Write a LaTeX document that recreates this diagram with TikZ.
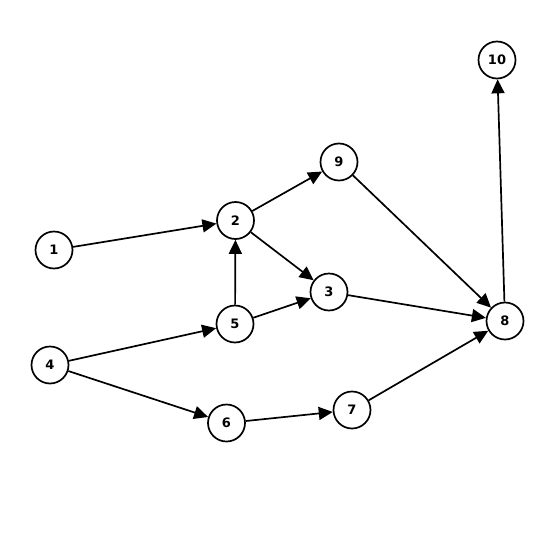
\documentclass[tikz,border=0pt]{standalone}
\usepackage{fontspec}
\setmainfont{DejaVu Sans}
\usetikzlibrary{arrows.meta}
\begin{document}
\begin{tikzpicture}[x=1pt,y=-1pt,
  vtx/.style={circle,draw,line width=1.7pt,minimum size=37pt,inner sep=0pt,fill=white,font=\bfseries\fontsize{13}{14}\selectfont},
  edge/.style={line width=1.7pt,-{Triangle[length=14pt,width=13pt]}}]
\useasboundingbox (0,0) rectangle (557,557);
\node[vtx] (n1) at (54,250) {1};
\node[vtx] (n2) at (235.5,220.5) {2};
\node[vtx] (n9) at (339,162) {9};
\node[vtx] (n10) at (497,60) {10};
\node[vtx] (n3) at (329,292) {3};
\node[vtx] (n5) at (235,324) {5};
\node[vtx] (n8) at (505,321) {8};
\node[vtx] (n4) at (50,365) {4};
\node[vtx] (n6) at (226.5,423) {6};
\node[vtx] (n7) at (352,410) {7};
\draw[edge] (n1) -- (n2);
\draw[edge] (n2) -- (n9);
\draw[edge] (n2) -- (n3);
\draw[edge] (n5) -- (n2);
\draw[edge] (n5) -- (n3);
\draw[edge] (n4) -- (n5);
\draw[edge] (n4) -- (n6);
\draw[edge] (n6) -- (n7);
\draw[edge] (n7) -- (n8);
\draw[edge] (n3) -- (n8);
\draw[edge] (n9) -- (n8);
\draw[edge] (n8) -- (n10);
\end{tikzpicture}
\end{document}
